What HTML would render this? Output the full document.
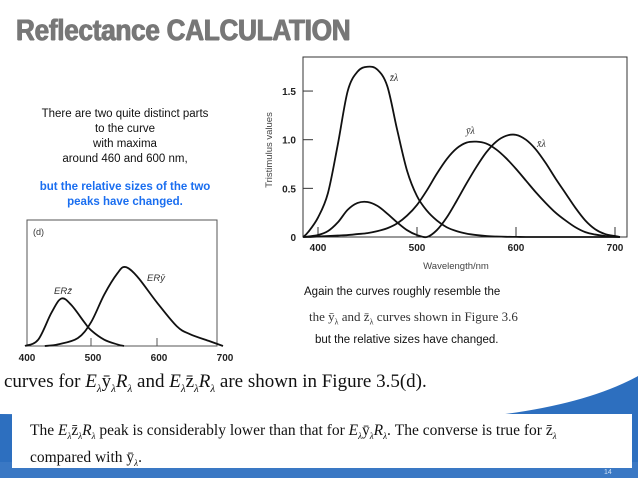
<!DOCTYPE html>
<html><head><meta charset="utf-8"><style>
body{margin:0;width:638px;height:478px;overflow:hidden;background:#fff;font-family:"Liberation Sans",sans-serif;position:relative}
.abs{position:absolute}
.serif{font-family:"Liberation Serif",serif}
</style></head><body>
<div class="abs" style="left:16px;top:14px;font-size:30px;font-weight:bold;color:#777;text-shadow:0.6px 0 0 #777,-0.6px 0 0 #777,0 0.6px 0 #777;letter-spacing:-0.3px;transform:scaleX(0.87);transform-origin:left">Reflectance CALCULATION</div>
<div class="abs" style="left:20px;top:107px;width:210px;text-align:center;font-size:11.5px;line-height:15px;color:#111">There are two quite distinct parts<br>to the curve<br>with maxima<br>around 460 and 600 nm,</div>
<div class="abs" style="left:20px;top:180px;width:210px;text-align:center;font-size:11.5px;line-height:15px;font-weight:bold;color:#1a6ef0">but the relative sizes of the two<br>peaks have changed.</div>
<div class="abs" style="left:304px;top:286px;font-size:11.5px;color:#111">Again the curves roughly resemble the</div>
<div class="abs serif" style="left:309px;top:309px;font-size:13px;color:#333">the ȳ<sub style="font-size:8px">λ</sub> and z̄<sub style="font-size:8px">λ</sub> curves shown in Figure 3.6</div>
<div class="abs" style="left:315px;top:334px;font-size:11.5px;color:#111">but the relative sizes have changed.</div>

<svg class="abs" style="left:0;top:0" width="638" height="478">
<path d="M470 418 Q580 408 638 376 L638 478 L0 478 L0 414 Z" fill="#2d6fbf"/>
<rect x="0" y="462" width="638" height="16" fill="#3a78c4"/>
<rect x="12" y="414" width="620" height="54" fill="#fff"/>
<text x="604" y="474" font-size="7" fill="#cfe0f5">14</text>
<g id="main"></g>
<g id="small"></g>
</svg>
<div class="abs serif" style="left:4px;top:371px;font-size:19px;color:#111">curves for <i>E</i><sub style="font-size:11px"><i>λ</i></sub>ȳ<sub style="font-size:11px"><i>λ</i></sub><i>R</i><sub style="font-size:11px"><i>λ</i></sub> and <i>E</i><sub style="font-size:11px"><i>λ</i></sub>z̄<sub style="font-size:11px"><i>λ</i></sub><i>R</i><sub style="font-size:11px"><i>λ</i></sub> are shown in Figure 3.5(d).</div>
<div class="abs serif" style="left:30px;top:420px;font-size:15.5px;line-height:21px;color:#111;width:610px">The <i>E</i><sub style="font-size:9px"><i>λ</i></sub>z̄<sub style="font-size:9px"><i>λ</i></sub><i>R</i><sub style="font-size:9px"><i>λ</i></sub> peak is considerably lower than that for <i>E</i><sub style="font-size:9px"><i>λ</i></sub>ȳ<sub style="font-size:9px"><i>λ</i></sub><i>R</i><sub style="font-size:9px"><i>λ</i></sub>. The converse is true for z̄<sub style="font-size:9px"><i>λ</i></sub><br>compared with ȳ<sub style="font-size:9px"><i>λ</i></sub>.</div>
<script>
const wl=[385,390,400,410,420,430,440,450,460,470,480,490,500,510,520,530,540,550,560,570,580,590,600,610,620,630,640,650,660,670,680,690,700,705];
const xbar=[0,0.005,0.02,0.06,0.15,0.28,0.35,0.36,0.32,0.24,0.15,0.07,0.02,0,0.07,0.2,0.37,0.55,0.72,0.87,0.98,1.04,1.05,1.0,0.9,0.76,0.6,0.45,0.3,0.17,0.08,0.03,0.01,0];
const ybar=[0,0,0.005,0.01,0.015,0.02,0.03,0.04,0.06,0.09,0.14,0.22,0.33,0.48,0.65,0.8,0.91,0.97,0.98,0.96,0.9,0.81,0.7,0.58,0.46,0.35,0.25,0.17,0.1,0.05,0.025,0.01,0.003,0];
const zbar=[0,0.05,0.2,0.45,0.95,1.5,1.7,1.75,1.72,1.55,1.1,0.68,0.42,0.27,0.17,0.1,0.06,0.035,0.02,0.01,0.005,0.002,0.001,0,0,0,0,0,0,0,0,0,0,0];
const yTicks=[0,0.5,1.0,1.5];
const xTicks=[400,500,600,700];
const erWl=[400,420,440,455,470,490,500,520,540,550];
const erZ=[0,0.08,0.42,0.6,0.52,0.3,0.2,0.08,0.02,0];
const erYWl=[430,450,480,500,520,540,552,570,600,630,650,680,700];
const erY=[0,0.02,0.1,0.3,0.65,0.92,1.0,0.88,0.55,0.25,0.15,0.06,0];
const NS='http://www.w3.org/2000/svg';
function mk(p,t,a){const e=document.createElementNS(NS,t);for(const k in a)e.setAttribute(k,a[k]);p.appendChild(e);return e;}
function smooth(pts){let d='M'+pts[0][0]+' '+pts[0][1];for(let i=0;i<pts.length-1;i++){const p0=pts[Math.max(0,i-1)],p1=pts[i],p2=pts[i+1],p3=pts[Math.min(pts.length-1,i+2)];
d+=' C'+(p1[0]+(p2[0]-p0[0])/6)+' '+(p1[1]+(p2[1]-p0[1])/6)+' '+(p2[0]-(p3[0]-p1[0])/6)+' '+(p2[1]-(p3[1]-p1[1])/6)+' '+p2[0]+' '+p2[1];}return d;}
const g=document.getElementById('main');
const X=w=>318+(w-400)*0.99, Y=v=>237-v*97.3;
const fr=mk(g,'rect',{x:303,y:57,width:324,height:180,fill:'none',stroke:'#333','stroke-width':1});


yTicks.forEach(t=>{const l=mk(g,'line',{x1:303,x2:313,y1:Y(t),y2:Y(t),stroke:'#333'});


const tx=mk(g,'text',{x:296,y:Y(t)+4,'text-anchor':'end','font-size':10,'font-weight':'bold',fill:'#222'});tx.textContent=t===0?'0':t.toFixed(1);

});
xTicks.forEach(t=>{const l=mk(g,'line',{x1:X(t),x2:X(t),y1:237,y2:227,stroke:'#333'});


const tx=mk(g,'text',{x:X(t),y:251,'text-anchor':'middle','font-size':10,'font-weight':'bold',fill:'#222'});tx.textContent=t;

});
const xt=mk(g,'text',{x:456,y:269,'text-anchor':'middle','font-size':9.5,fill:'#444'});xt.textContent='Wavelength/nm';


const yt=mk(g,'text',{x:0,y:0,'text-anchor':'middle','font-size':9.5,fill:'#444',transform:'translate(272,150) rotate(-90)'});yt.textContent='Tristimulus values';


[['x-bar-curve',xbar],['y-bar-curve',ybar],['z-bar-curve',zbar]].forEach(([n,arr])=>{
const p=mk(g,'path',{d:smooth(wl.map((w,i)=>[X(w),Y(arr[i])])),fill:'none',stroke:'#111','stroke-width':1.8});

});
[['z̄λ',390,81,'z-bar-label'],['ȳλ',466,134,'y-bar-label'],['x̄λ',537,147,'x-bar-label']].forEach(([s,x,y,n])=>{
const t=mk(g,'text',{x:x,y:y,'font-size':10,'font-style':'italic','font-family':'Liberation Serif',fill:'#333'});t.textContent=s;

});
const s=document.getElementById('small');
const X2=w=>25+(w-400)*0.66, Y2=v=>346-v*79;
const f2=mk(s,'rect',{x:27,y:220,width:190,height:126,fill:'none',stroke:'#555'});


const dl=mk(s,'text',{x:33,y:235,'font-size':9,fill:'#333'});dl.textContent='(d)';


xTicks.forEach(t=>{if(t>400&&t<700){const l=mk(s,'line',{x1:X2(t),x2:X2(t),y1:346,y2:338,stroke:'#555'});

}
const tx=mk(s,'text',{x:X2(t)+2,y:361,'text-anchor':'middle','font-size':10,'font-weight':'bold',fill:'#222'});tx.textContent=t;

});
const pz=mk(s,'path',{d:smooth(erWl.map((w,i)=>[X2(w),Y2(erZ[i])])),fill:'none',stroke:'#111','stroke-width':1.8});


const py=mk(s,'path',{d:smooth(erYWl.map((w,i)=>[X2(w),Y2(erY[i])])),fill:'none',stroke:'#111','stroke-width':1.8});


[['ERz̄',54,294,'er-z-label'],['ERȳ',147,281,'er-y-label']].forEach(([t0,x,y,n])=>{
const t=mk(s,'text',{x:x,y:y,'font-size':9.5,'font-style':'italic',fill:'#333'});t.textContent=t0;

});
</script>
</body></html>
